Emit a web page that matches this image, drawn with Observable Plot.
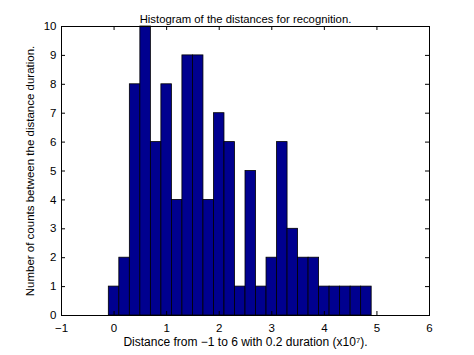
<!DOCTYPE html>
<html><head><meta charset="utf-8">
<script src="https://cdn.jsdelivr.net/npm/d3@7"></script>
<script src="https://cdn.jsdelivr.net/npm/@observablehq/plot@0.6"></script>
<style>
body{margin:0;background:#fff}
svg{font-family:"Liberation Sans",Arial,Helvetica,sans-serif}
</style>
</head><body><div id="chart"></div>
<script>
const binCenters = [0, 0.2, 0.4, 0.6, 0.8, 1.0, 1.2, 1.4, 1.6, 1.8, 2.0, 2.2, 2.4, 2.6, 2.8, 3.0, 3.2, 3.4, 3.6, 3.8, 4.0, 4.2, 4.4, 4.6, 4.8];
const counts     = [1, 2, 8, 10, 6, 8, 4, 9, 9, 4, 7, 6, 1, 5, 1, 2, 6, 3, 2, 2, 1, 1, 1, 1, 1];
const binWidth = 0.2;
const xTicks = [-1, 0, 1, 2, 3, 4, 5, 6];
const yTicks = [0, 1, 2, 3, 4, 5, 6, 7, 8, 9, 10];
const titleText = "Histogram of the distances for recognition.";
const xLabelText = "Distance from \u22121 to 6 with 0.2 duration (x10\u2077).";
const yLabelText = "Number of counts between the distance duration.";

const bins = binCenters.map((c, i) => ({x1: c - binWidth / 2, x2: c + binWidth / 2, count: counts[i]}));

const W = 474, H = 355, mL = 61, mR = 45, mT = 26, mB = 40;
const fw = W - mL - mR, fh = H - mT - mB, tk = 4;
const fmt = d => (d < 0 ? "\u2212" : "") + Math.abs(d);

const chart = Plot.plot({
  width: W, height: H,
  marginLeft: mL, marginRight: mR, marginTop: mT, marginBottom: mB,
  style: {fontFamily: '"Liberation Sans",Arial,sans-serif', fontSize: "11px", color: "black", background: "white"},
  x: {domain: [-1, 6]},
  y: {domain: [0, 10]},
  marks: [
    Plot.rect(bins, {x1: "x1", x2: "x2", y1: 0, y2: "count", fill: "#00008f", stroke: "black", strokeWidth: 0.8}),
    Plot.frame({stroke: "black", strokeWidth: 1}),
    Plot.tickX(xTicks, {x: d => d, insetTop: fh - tk, stroke: "black"}),
    Plot.tickX(xTicks, {x: d => d, insetBottom: fh - tk, stroke: "black"}),
    Plot.tickY(yTicks, {y: d => d, insetRight: fw - tk, stroke: "black"}),
    Plot.tickY(yTicks, {y: d => d, insetLeft: fw - tk, stroke: "black"}),
    Plot.axisX({ticks: xTicks, tickFormat: fmt, tickSize: 0, tickPadding: 8, label: null, fontSize: 11.5}),
    Plot.axisY({ticks: yTicks, tickFormat: fmt, tickSize: 0, tickPadding: 5, label: null, fontSize: 11.5}),
    Plot.text([titleText], {frameAnchor: "top", dy: -12, fontSize: 11.3, fill: "black"}),
    Plot.text([xLabelText], {frameAnchor: "bottom", dy: 30, fontSize: 12, fill: "black"}),
    Plot.text([yLabelText], {frameAnchor: "left", textAnchor: "middle", dx: -31, rotate: -90, fontSize: 11.5, fill: "black"})
  ]
});
document.getElementById("chart").appendChild(chart);
</script>
</body></html>
